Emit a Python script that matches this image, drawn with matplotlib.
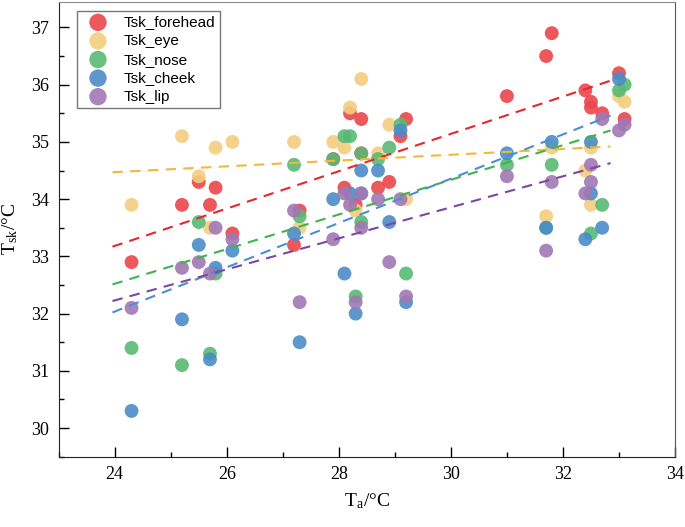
import numpy as np
import matplotlib
matplotlib.use("Agg")
from matplotlib import pyplot as plt

# skin temperature (Tsk) against air temperature (Ta)
forehead_x = [24.3, 25.2, 25.5, 25.7, 25.8, 26.1, 27.2, 27.3, 27.9, 28.1, 28.2, 28.3, 28.4, 28.4,
              28.7, 28.9, 29.1, 29.2, 31.0, 31.7, 31.8, 32.4, 32.5, 32.5, 32.7, 33.0, 33.1]
forehead_y = [32.9, 33.9, 34.3, 33.9, 34.2, 33.4, 33.2, 33.8, 34.7, 34.2, 35.5, 33.9, 35.4, 34.8,
              34.2, 34.3, 35.1, 35.4, 35.8, 36.5, 36.9, 35.9, 35.7, 35.6, 35.5, 36.2, 35.4]

eye_x = [24.3, 25.2, 25.5, 25.7, 25.8, 26.1, 27.2, 27.3, 27.9, 28.1, 28.2, 28.3, 28.4,
         28.7, 28.9, 29.2, 31.7, 31.8, 32.4, 32.5, 32.5, 33.0, 33.1]
eye_y = [33.9, 35.1, 34.4, 33.5, 34.9, 35.0, 35.0, 33.5, 35.0, 34.9, 35.6, 33.8, 36.1,
         34.8, 35.3, 34.0, 33.7, 34.9, 34.5, 34.9, 33.9, 35.8, 35.7]

nose_x = [24.3, 25.2, 25.5, 25.7, 25.8, 27.2, 27.3, 27.9, 28.1, 28.2, 28.3, 28.4, 28.4,
          28.7, 28.9, 29.1, 29.2, 31.0, 31.7, 31.8, 32.5, 32.7, 33.0, 33.1]
nose_y = [31.4, 31.1, 33.6, 31.3, 32.7, 34.6, 33.7, 34.7, 35.1, 35.1, 32.3, 34.8, 33.6,
          34.7, 34.9, 35.3, 32.7, 34.6, 33.5, 34.6, 33.4, 33.9, 35.9, 36.0]

cheek_x = [24.3, 25.2, 25.5, 25.7, 25.8, 26.1, 27.2, 27.3, 27.9, 28.1, 28.2, 28.3, 28.4, 28.4,
           28.7, 28.9, 29.1, 29.2, 31.0, 31.7, 31.8, 32.4, 32.5, 32.5, 32.7, 33.0]
cheek_y = [30.3, 31.9, 33.2, 31.2, 32.8, 33.1, 33.4, 31.5, 34.0, 32.7, 34.1, 32.0, 34.5, 34.1,
           34.5, 33.6, 35.2, 32.2, 34.8, 33.5, 35.0, 33.3, 35.0, 34.1, 33.5, 36.1]

lip_x = [24.3, 25.2, 25.5, 25.7, 25.8, 26.1, 27.2, 27.3, 27.9, 28.1, 28.2, 28.3, 28.4, 28.4,
         28.7, 28.9, 29.1, 29.2, 31.0, 31.7, 31.8, 32.4, 32.5, 32.5, 32.7, 33.0, 33.1]
lip_y = [32.1, 32.8, 32.9, 32.7, 33.5, 33.3, 33.8, 32.2, 33.3, 34.1, 33.9, 32.2, 34.1, 33.5,
         34.0, 32.9, 34.0, 32.3, 34.4, 33.1, 34.3, 34.1, 34.6, 34.3, 35.4, 35.2, 35.3]

labels = ["Tsk_forehead", "Tsk_eye", "Tsk_nose", "Tsk_cheek", "Tsk_lip"]
point_colors = ["#EB464B", "#F4CE80", "#58B973", "#4B8CC8", "#A078B4"]
line_colors = ["#E8262B", "#F2B83C", "#3DB54C", "#4A8FD4", "#7E46A2"]

# linear trend lines as drawn in the reference: value at the start and end of the fit range
fit_range = [23.96, 32.85]
trend_start = [33.17, 34.47, 32.51, 32.02, 32.22]
trend_end = [36.07, 34.92, 35.20, 35.46, 34.63]

series = [(forehead_x, forehead_y), (eye_x, eye_y), (nose_x, nose_y),
          (cheek_x, cheek_y), (lip_x, lip_y)]

plt.rcParams["font.family"] = "Liberation Serif"
plt.rcParams["mathtext.fontset"] = "stix"

fig = plt.figure(figsize=(6.85, 5.27), dpi=100)
ax = fig.add_axes([0.0857, 0.1334, 0.8997, 0.8634])

# points first
for (xs, ys), lab, c in zip(series, labels, point_colors):
    ax.scatter(xs, ys, s=100, color=c, alpha=0.9, edgecolors="none", label=lab, zorder=3)

for y0, y1, c in zip(trend_start, trend_end, line_colors):
    ax.plot(fit_range, [y0, y1], color=c, lw=1.5, ls=(0, (5, 3.5)), zorder=4)

ax.set_xlim(23, 34)
ax.set_ylim(29.5, 37.45)
ax.set_xticks(np.arange(24, 35, 2))
ax.set_xticks(np.arange(23, 35, 1), minor=True)
ax.set_yticks(np.arange(30, 38, 1))
ax.set_yticks(np.arange(29.5, 37.5, 0.5), minor=True)
ax.tick_params(which="both", direction="in", labelsize=13, pad=7, top=False, right=False)
ax.tick_params(which="major", length=7, width=1)
ax.tick_params(which="minor", length=3.6, width=1)

for side in ["left", "bottom"]:
    ax.spines[side].set_color("#222222")
ax.spines["top"].set_color("#8a8a8a")
ax.spines["right"].set_color("#555555")

ax.set_xlabel(r"T$_\mathregular{a}$/°C", fontsize=14, labelpad=6)
ax.set_ylabel(r"T$_\mathregular{sk}$/°C", fontsize=14, labelpad=8)

leg = ax.legend(loc="upper left", bbox_to_anchor=(0.029, 0.98), borderaxespad=0,
                frameon=True, fancybox=False, edgecolor="#777777", framealpha=1,
                prop={"family": "Liberation Sans", "size": 11}, markerscale=1.25,
                handletextpad=0.6, labelspacing=0.3, borderpad=0.3, handlelength=2.2)
leg.get_frame().set_linewidth(1)

fig.savefig("out.png", dpi=100)
